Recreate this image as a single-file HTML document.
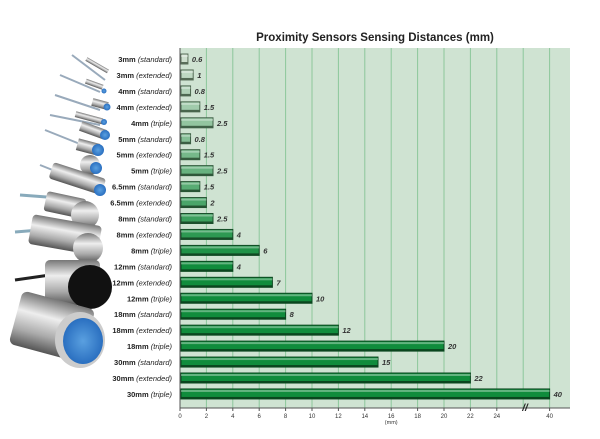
<!DOCTYPE html>
<html><head><meta charset="utf-8"><style>
body{margin:0;background:#fff;font-family:"Liberation Sans",sans-serif}
svg{display:block}
</style></head><body>
<svg id="c" width="600" height="439" viewBox="0 0 600 439">
<defs>
<linearGradient id="metal" x1="0" y1="0" x2="0" y2="1"><stop offset="0" stop-color="#777"/><stop offset="0.35" stop-color="#eee"/><stop offset="0.7" stop-color="#aaa"/><stop offset="1" stop-color="#555"/></linearGradient>
<radialGradient id="blue"><stop offset="0" stop-color="#5aa0e0"/><stop offset="1" stop-color="#2a6fc0"/></radialGradient>
</defs>
<g id="sensors">
<line x1="72" y1="55" x2="105" y2="80" stroke="#9ab" stroke-width="2"/>
<line x1="60" y1="75" x2="100" y2="92" stroke="#9ab" stroke-width="2"/>
<line x1="55" y1="95" x2="100" y2="110" stroke="#9ab" stroke-width="2"/>
<line x1="50" y1="115" x2="100" y2="125" stroke="#9ab" stroke-width="2"/>
<line x1="45" y1="130" x2="90" y2="148" stroke="#9ab" stroke-width="2"/>
<line x1="40" y1="165" x2="65" y2="175" stroke="#9ab" stroke-width="2"/>
<line x1="20" y1="195" x2="60" y2="198" stroke="#8ab" stroke-width="3"/>
<line x1="15" y1="232" x2="40" y2="230" stroke="#8ab" stroke-width="3"/>
<line x1="15" y1="280" x2="50" y2="275" stroke="#222" stroke-width="3"/>
<rect x="85" y="62" width="25" height="4" fill="url(#metal)" transform="rotate(30 95 64)"/>
<rect x="85" y="82" width="18" height="5" fill="url(#metal)" transform="rotate(20 95 85)"/>
<circle cx="104" cy="91" r="2.5" fill="url(#blue)"/>
<rect x="92" y="100" width="16" height="8" fill="url(#metal)" transform="rotate(15 100 104)"/>
<circle cx="107" cy="107" r="3.5" fill="url(#blue)"/>
<rect x="75" y="115" width="28" height="6" fill="url(#metal)" transform="rotate(15 90 118)"/>
<circle cx="104" cy="122" r="3" fill="url(#blue)"/>
<rect x="80" y="125" width="26" height="10" fill="url(#metal)" transform="rotate(20 92 130)"/>
<circle cx="105" cy="135" r="5" fill="url(#blue)"/>
<rect x="77" y="141" width="22" height="12" fill="url(#metal)" transform="rotate(15 88 147)"/>
<circle cx="98" cy="150" r="6" fill="url(#blue)"/>
<circle cx="90" cy="165" r="10" fill="url(#metal)"/><circle cx="96" cy="168" r="6" fill="url(#blue)"/>
<rect x="50" y="170" width="55" height="17" rx="3" fill="url(#metal)" transform="rotate(18 77 178)"/>
<circle cx="100" cy="190" r="6" fill="url(#blue)"/>
<rect x="45" y="195" width="40" height="20" rx="3" fill="url(#metal)" transform="rotate(12 65 205)"/>
<circle cx="85" cy="215" r="14" fill="url(#metal)"/>
<rect x="30" y="220" width="70" height="30" rx="4" fill="url(#metal)" transform="rotate(10 65 235)"/>
<circle cx="88" cy="248" r="15" fill="url(#metal)"/>
<rect x="45" y="260" width="55" height="45" rx="5" fill="url(#metal)"/>
<circle cx="90" cy="287" r="22" fill="#111"/>
<rect x="15" y="300" width="75" height="55" rx="6" fill="url(#metal)" transform="rotate(15 55 325)"/>
<ellipse cx="80" cy="340" rx="25" ry="28" fill="#ccc"/>
<ellipse cx="83" cy="341" rx="20" ry="23" fill="url(#blue)"/>
</g>
<text x="375" y="41" text-anchor="middle" font-size="11.5" font-weight="bold" fill="#222">Proximity Sensors Sensing Distances (mm)</text>
<rect x="180" y="48" width="390" height="360" fill="#cfe3d2"/>
<g id="grid"></g><g id="bars"></g><g id="labels"></g><g id="axis"></g>
</svg>
<script>
const sizes=["3mm","3mm","4mm","4mm","4mm","5mm","5mm","5mm","6.5mm","6.5mm","8mm","8mm","8mm","12mm","12mm","12mm","18mm","18mm","18mm","30mm","30mm","30mm"];
const types=["standard","extended","standard","extended","triple","standard","extended","triple","standard","extended","standard","extended","triple","standard","extended","triple","standard","extended","triple","standard","extended","triple"];
const values=[0.6,1,0.8,1.5,2.5,0.8,1.5,2.5,1.5,2,2.5,4,6,4,7,10,8,12,20,15,22,40];
const ticks=[0,2,4,6,8,10,12,14,16,18,20,22,24,40];
const NS="http://www.w3.org/2000/svg";
function x(v){return v<=26?180+v*13.2:180+26*13.2+(v-26)*(26.4/14);}
function y(i){return 59+i*15.95;}
function mk(t,a,p){const e=document.createElementNS(NS,t);for(const k in a)e.setAttribute(k,a[k]);document.getElementById(p).appendChild(e);return e;}
for(let g=2;g<=26;g+=2){const l=mk('line',{x1:x(g),x2:x(g),y1:48,y2:408,stroke:'#8cc79b','stroke-width':1},'grid');

}
const gl=mk('line',{x1:x(40),x2:x(40),y1:48,y2:408,stroke:'#8cc79b'},'grid');


const ax=mk('line',{x1:180,x2:570,y1:408,y2:408,stroke:'#555'},'axis');


mk('line',{x1:180,x2:180,y1:48,y2:408,stroke:'#555'},'axis');
function lerp(a,b,t){return Math.round(a+(b-a)*t);}
values.forEach((v,i)=>{
 const t=Math.min(1,i/13);
 const c=`rgb(${lerp(205,16,t)},${lerp(222,140,t)},${lerp(205,60,t)})`;
 const d=`rgb(${lerp(90,10,t)},${lerp(110,70,t)},${lerp(90,30,t)})`;
 const yy=y(i);
 const b=mk('rect',{x:181,y:yy-5,width:x(v)-181,height:10,fill:c,stroke:d,'stroke-width':1},'bars');
 
 
 mk('rect',{x:181,y:yy+3,width:x(v)-181,height:2,fill:d},'bars');
 mk('rect',{x:181,y:yy-4,width:x(v)-181,height:2,fill:'#fff','fill-opacity':0.35},'bars');
 const vl=mk('text',{x:x(v)+4,y:yy+3,'font-size':7.5,'font-weight':'bold','font-style':'italic',fill:'#333'},'labels');
 vl.textContent=v;
 
 
 const cl=mk('text',{x:172,y:yy+3,'text-anchor':'end','font-size':7.5,fill:'#222'},'labels');
 
 
 const s1=document.createElementNS(NS,'tspan');s1.setAttribute('font-weight','bold');s1.textContent=sizes[i]+' ';cl.appendChild(s1);
 const s2=document.createElementNS(NS,'tspan');s2.setAttribute('font-style','italic');s2.textContent='('+types[i]+')';cl.appendChild(s2);
});
ticks.forEach(t=>{
 mk('line',{x1:x(t),x2:x(t),y1:408,y2:411,stroke:'#555'},'axis');
 const tl=mk('text',{x:x(t),y:418,'text-anchor':'middle','font-size':6,fill:'#333'},'axis');
 tl.textContent=t;
 
 
});
const un=mk('text',{x:x(16),y:424,'text-anchor':'middle','font-size':5.5,fill:'#333'},'axis');
un.textContent='(mm)';


const br=mk('text',{x:525,y:411,'text-anchor':'middle','font-size':10,'font-style':'italic','font-weight':'bold',fill:'#222'},'axis');
br.textContent='//';


</script>
</body></html>
